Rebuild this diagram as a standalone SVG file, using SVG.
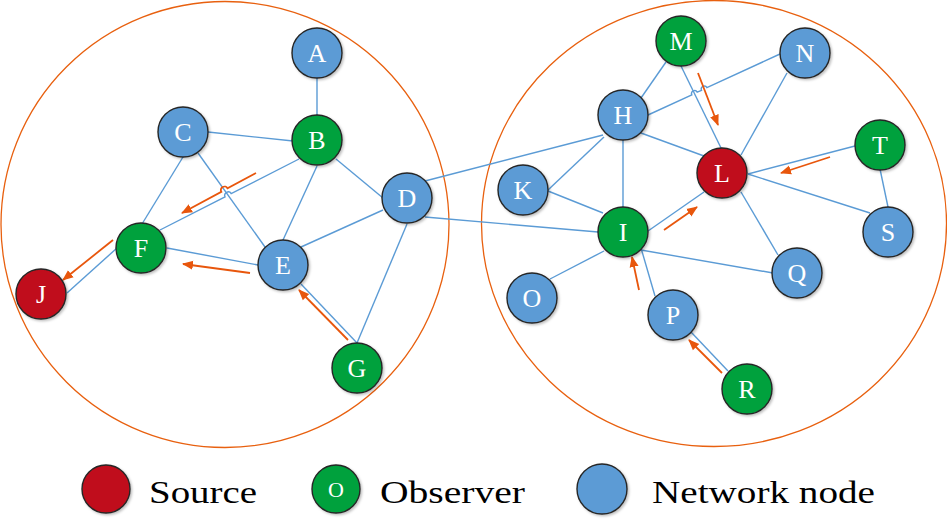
<svg xmlns="http://www.w3.org/2000/svg" width="947" height="522" viewBox="0 0 947 522">
<style>
.region{fill:none;stroke:#E8600F;stroke-width:1.3}
.edge{fill:none;stroke:#5B9BD5;stroke-width:1.4}
.flow{fill:none;stroke:#E8560C;stroke-width:1.8;marker-end:url(#ah)}
.node{stroke:#262626;stroke-width:1.4;filter:url(#sh)}
.src{fill:#C00E1A}
.obs{fill:#00A13D}
.net{fill:#5B9BD5}
.lbl{font-family:"Liberation Serif","Times New Roman",serif;font-size:26px;fill:#fff;text-anchor:middle}
.leg{font-family:"Liberation Serif","Times New Roman",serif;font-size:32px;fill:#000}
</style>
<defs>
<marker id="ah" markerUnits="userSpaceOnUse" markerWidth="12" markerHeight="10" refX="10" refY="5" orient="auto">
<path d="M0,0.5 L11,5 L0,9.5 Z" fill="#E8560C"/>
</marker>
<filter id="sh" x="-20%" y="-20%" width="150%" height="150%">
<feDropShadow dx="1.5" dy="1.5" stdDeviation="1.2" flood-color="#000" flood-opacity="0.25"/>
</filter>
</defs>
<ellipse class="region" cx="225" cy="224.5" rx="224" ry="223"/>
<ellipse class="region" cx="714" cy="223.5" rx="232.5" ry="223"/>
<g id="connectors">
<line class="edge" x1="317" y1="78" x2="317" y2="116"/>
<line class="edge" x1="208" y1="132" x2="293" y2="141"/>
<line class="edge" x1="183" y1="157" x2="142" y2="224"/>
<line class="edge" x1="198" y1="153" x2="265" y2="247"/>
<path class="edge" d="M299,159 L231.2,193.6 A3.5,3.5 0 0 0 225,196.8 L160,230"/>
<line class="edge" x1="317" y1="166" x2="283" y2="240"/>
<line class="edge" x1="336" y1="159" x2="383" y2="198"/>
<line class="edge" x1="383" y1="210" x2="301" y2="247"/>
<line class="edge" x1="425" y1="181" x2="603" y2="135"/>
<line class="edge" x1="425" y1="217" x2="598" y2="232"/>
<line class="edge" x1="407" y1="224" x2="357" y2="343"/>
<line class="edge" x1="167" y1="248" x2="258" y2="265"/>
<line class="edge" x1="117" y1="248" x2="67" y2="293"/>
<line class="edge" x1="301" y1="284" x2="357" y2="343"/>
<line class="edge" x1="666" y1="62" x2="641" y2="98"/>
<line class="edge" x1="681" y1="66" x2="722" y2="150"/>
<path class="edge" d="M780,54 L706.9,87.7 A3,3 0 0 0 701.5,90.3 L697.2,92.2 A3,3 0 0 0 691.8,94.8 L648,115"/>
<line class="edge" x1="787" y1="73" x2="741" y2="155"/>
<line class="edge" x1="641" y1="133" x2="704" y2="156"/>
<line class="edge" x1="604" y1="137" x2="548" y2="190"/>
<line class="edge" x1="623" y1="140" x2="623" y2="207"/>
<line class="edge" x1="548" y1="191" x2="603" y2="213"/>
<line class="edge" x1="648" y1="231" x2="704" y2="192"/>
<line class="edge" x1="604" y1="251" x2="550" y2="279"/>
<line class="edge" x1="641" y1="250" x2="773" y2="273"/>
<line class="edge" x1="641" y1="248" x2="655" y2="296"/>
<line class="edge" x1="748" y1="174" x2="855" y2="146"/>
<line class="edge" x1="748" y1="174" x2="870" y2="213"/>
<line class="edge" x1="741" y1="192" x2="778" y2="255"/>
<line class="edge" x1="880" y1="169" x2="888" y2="207"/>
<line class="edge" x1="691" y1="332" x2="728" y2="371"/>
<path class="flow" d="M256,173 L227.5,188.4 A3.5,3.5 0 0 0 221.3,191.8 L182,213"/>
<line class="flow" x1="113" y1="240" x2="63" y2="280"/>
<line class="flow" x1="250" y1="273" x2="183" y2="264"/>
<line class="flow" x1="348" y1="340" x2="299" y2="290"/>
<line class="flow" x1="698" y1="73" x2="718" y2="125"/>
<line class="flow" x1="830" y1="157" x2="781" y2="173"/>
<line class="flow" x1="664" y1="230" x2="697" y2="207"/>
<line class="flow" x1="639" y1="290" x2="632" y2="257"/>
<line class="flow" x1="722" y1="373" x2="689" y2="340"/>
</g>
<g id="node-A"><circle class="node net" cx="317" cy="53" r="25"/><text class="lbl" x="317" y="62">A</text></g>
<g id="node-B"><circle class="node obs" cx="317" cy="140" r="25"/><text class="lbl" x="317" y="149">B</text></g>
<g id="node-C"><circle class="node net" cx="183" cy="132" r="25"/><text class="lbl" x="183" y="141">C</text></g>
<g id="node-D"><circle class="node net" cx="407" cy="198" r="25"/><text class="lbl" x="407" y="207">D</text></g>
<g id="node-E"><circle class="node net" cx="283" cy="265" r="25"/><text class="lbl" x="283" y="274">E</text></g>
<g id="node-F"><circle class="node obs" cx="141" cy="248" r="25"/><text class="lbl" x="141" y="257">F</text></g>
<g id="node-G"><circle class="node obs" cx="357" cy="368" r="25"/><text class="lbl" x="357" y="377">G</text></g>
<g id="node-J"><circle class="node src" cx="41" cy="294" r="25"/><text class="lbl" x="41" y="303">J</text></g>
<g id="node-M"><circle class="node obs" cx="681" cy="41" r="25"/><text class="lbl" x="681" y="50">M</text></g>
<g id="node-N"><circle class="node net" cx="805" cy="53" r="25"/><text class="lbl" x="805" y="62">N</text></g>
<g id="node-H"><circle class="node net" cx="623" cy="115" r="25"/><text class="lbl" x="623" y="124">H</text></g>
<g id="node-L"><circle class="node src" cx="722" cy="173" r="25"/><text class="lbl" x="722" y="182">L</text></g>
<g id="node-T"><circle class="node obs" cx="880" cy="145" r="25"/><text class="lbl" x="880" y="154">T</text></g>
<g id="node-K"><circle class="node net" cx="523" cy="190" r="25"/><text class="lbl" x="523" y="199">K</text></g>
<g id="node-I"><circle class="node obs" cx="623" cy="232" r="25"/><text class="lbl" x="623" y="241">I</text></g>
<g id="node-S"><circle class="node net" cx="888" cy="232" r="25"/><text class="lbl" x="888" y="241">S</text></g>
<g id="node-Q"><circle class="node net" cx="797" cy="273" r="25"/><text class="lbl" x="797" y="282">Q</text></g>
<g id="node-O"><circle class="node net" cx="532" cy="298" r="25"/><text class="lbl" x="532" y="307">O</text></g>
<g id="node-P"><circle class="node net" cx="673" cy="315" r="25"/><text class="lbl" x="673" y="324">P</text></g>
<g id="node-R"><circle class="node obs" cx="747" cy="389" r="25"/><text class="lbl" x="747" y="398">R</text></g>
<g id="legend">
<circle class="node src" cx="106" cy="489" r="24"/>
<text class="leg" x="149" y="503" textLength="108" lengthAdjust="spacingAndGlyphs">Source</text>
<circle class="node obs" cx="336" cy="489" r="24"/>
<text class="lbl" x="336" y="497" style="font-size:22px">O</text>
<text class="leg" x="380" y="503" textLength="145" lengthAdjust="spacingAndGlyphs">Observer</text>
<circle class="node net" cx="602" cy="489" r="25"/>
<text class="leg" x="652" y="503" textLength="223" lengthAdjust="spacingAndGlyphs">Network node</text>
</g>
</svg>
